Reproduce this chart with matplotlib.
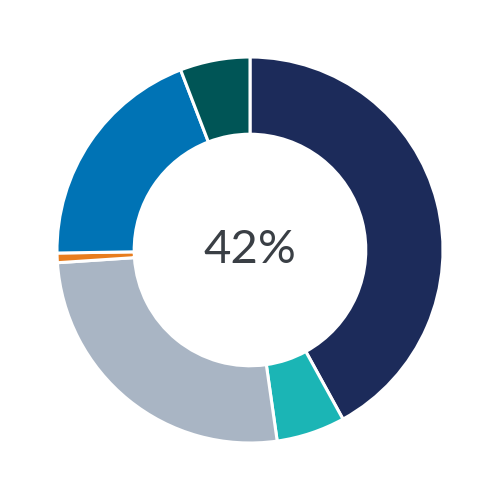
import matplotlib
matplotlib.use("Agg")
import matplotlib.pyplot as plt

labels = ["Navy", "Teal", "Gray", "Orange", "Blue", "Dark teal"]
values = [42.0, 5.75, 26.2, 0.8, 19.4, 5.85]
colors = ["#1C2B5A", "#1BB5B5", "#A9B5C4", "#E87D1E", "#0073B5", "#005556"]
center_text = "42%"

fig = plt.figure(figsize=(5, 5), dpi=100)
ax = fig.add_axes([0, 0, 1, 1])
ax.pie(values, colors=colors, startangle=90, counterclock=False,
       wedgeprops=dict(width=0.4, edgecolor="white", linewidth=2.2))
lim = 250 / 193
ax.set_xlim(-lim, lim)
ax.set_ylim(-lim, lim)
ax.set_aspect("equal")
ax.axis("off")
ax.text(0, 0.0, center_text, ha="center", va="center", fontsize=34,
        color="#3A3F45", family="Lato", fontweight="normal")
fig.savefig("out.png", dpi=100)
plt.close(fig)
